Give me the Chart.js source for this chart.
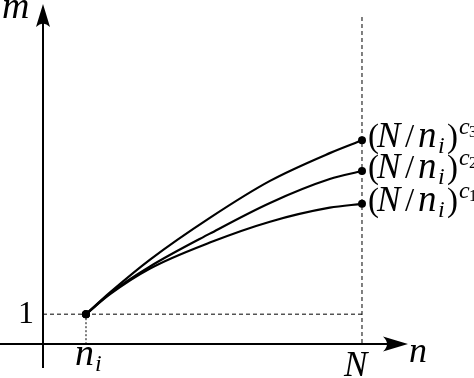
<!DOCTYPE html>
<html>
<head>
<meta charset="utf-8">
<script src="https://cdn.jsdelivr.net/npm/chart.js@4.4.1/dist/chart.umd.min.js"></script>
<style>
  body { margin: 0; background: #fff; }
  #wrap { width: 474px; height: 378px; }
</style>
</head>
<body>
<div id="wrap"><canvas id="growthChart" width="474" height="378"></canvas></div>
<script>
// values (n in units of n_i, m in units of 1)
const nPoints = [1, 1.56, 2.49, 3.88, 5.28, 6.67, 7.42];
const mCurveC1 = [1, 1.67, 2.53, 3.40, 4.10, 4.57, 4.70];
const mCurveC2 = [1, 1.70, 2.60, 3.70, 4.73, 5.53, 5.80];
const mCurveC3 = [1, 1.73, 2.83, 4.23, 5.47, 6.40, 6.83];
const exponentLabels = ['1', '2', '3'];

const nStart = 1;      // n_i
const nEnd = 7.42;     // N
const mStart = 1;
const xTickLabels = ['n', 'N'];   // n_i and N
const yTickLabels = ['1'];
const axisTitles = ['n', 'm'];

const SERIF = '"Liberation Serif"';

function toXY(ys) {
    return nPoints.map((n, i) => ({ x: n, y: ys[i] }));
}

// draws pieces of a formula, each at its own offset from (x, y)
function drawMath(ctx, x, y, parts) {
    parts.forEach(p => {
        ctx.font = (p.it ? 'italic ' : '') + p.size + 'px ' + SERIF;
        ctx.fillText(p.s, x + (p.dx || 0), y + (p.dy || 0));
    });
}

function arrowHead(ctx, tx, ty, dir) {
    // latex-like stealth arrow
    ctx.beginPath();
    if (dir === 'up') {
        ctx.moveTo(tx, ty);
        ctx.lineTo(tx + 7, ty + 23);
        ctx.quadraticCurveTo(tx, ty + 16, tx - 7, ty + 23);
    } else {
        ctx.moveTo(tx, ty);
        ctx.lineTo(tx - 25, ty - 7.5);
        ctx.quadraticCurveTo(tx - 17, ty, tx - 25, ty + 7.5);
    }
    ctx.closePath();
    ctx.fill();
}

const axesPlugin = {
    id: 'axesPlugin',
    beforeDatasetsDraw(chart) {
        const ctx = chart.ctx;
        const xs = chart.scales.x, ys = chart.scales.y;
        const x0 = xs.getPixelForValue(0), y0 = ys.getPixelForValue(0);
        const xi = xs.getPixelForValue(nStart), xN = xs.getPixelForValue(nEnd);
        const y1 = ys.getPixelForValue(mStart);
        const area = chart.chartArea;

        ctx.save();
        ctx.strokeStyle = '#000';
        ctx.lineWidth = 1;
        // dashed guides
        ctx.setLineDash([4, 3]);
        ctx.beginPath();
        ctx.moveTo(x0, y1); ctx.lineTo(xN, y1);
        ctx.moveTo(xN, area.top + 13); ctx.lineTo(xN, y0);
        ctx.stroke();
        ctx.setLineDash([2, 2]);
        ctx.beginPath();
        ctx.moveTo(xi, y1); ctx.lineTo(xi, y0);
        ctx.stroke();
        ctx.setLineDash([]);

        // axes
        ctx.lineWidth = 2;
        ctx.beginPath();
        ctx.moveTo(0, y0); ctx.lineTo(area.right - 10, y0);
        ctx.moveTo(x0, 368); ctx.lineTo(x0, area.top + 10);
        ctx.stroke();
        ctx.fillStyle = '#000';
        arrowHead(ctx, area.right, y0, 'right');
        arrowHead(ctx, x0, area.top, 'up');

        // axis titles and tick labels
        ctx.textBaseline = 'alphabetic';
        drawMath(ctx, 2, 18, [{ s: axisTitles[1], it: true, size: 38 }]);
        drawMath(ctx, area.right + 1, 362, [{ s: axisTitles[0], it: true, size: 36 }]);
        drawMath(ctx, 18, 323, [{ s: yTickLabels[0], size: 32 }]);
        drawMath(ctx, xi - 11, 365, [
            { s: xTickLabels[0], it: true, size: 38 },
            { s: 'i', it: true, size: 24, dx: 20, dy: 6 }
        ]);
        drawMath(ctx, xN - 18, 376, [{ s: xTickLabels[1], it: true, size: 35 }]);
        ctx.restore();
    },
    afterDatasetsDraw(chart) {
        const ctx = chart.ctx;
        ctx.save();
        ctx.fillStyle = '#000';
        ctx.textBaseline = 'alphabetic';
        chart.data.datasets.forEach((ds, k) => {
            const meta = chart.getDatasetMeta(k);
            const last = meta.data[meta.data.length - 1];
            drawMath(ctx, last.x + 6, last.y + 7, [
                { s: '(', size: 33, dx: 0 },
                { s: 'N', it: true, size: 35, dx: 9 },
                { s: '/', size: 33, dx: 37 },
                { s: 'n', it: true, size: 37, dx: 50 },
                { s: 'i', it: true, size: 24, dx: 70, dy: 6 },
                { s: ')', size: 33, dx: 79 },
                { s: 'c', it: true, size: 24, dx: 91, dy: -13 },
                { s: exponentLabels[k], size: 16, dx: 101, dy: -10 }
            ]);
        });
        ctx.restore();
    }
};

function endDot(c) {
    return (c.dataIndex === 0 || c.dataIndex === nPoints.length - 1) ? 4 : 0;
}

const curveStyle = {
    showLine: true,
    borderColor: '#000',
    backgroundColor: '#000',
    pointBackgroundColor: '#000',
    pointBorderWidth: 0,
    borderWidth: 2.2,
    cubicInterpolationMode: 'monotone',
    pointRadius: endDot,
    pointHoverRadius: endDot,
    clip: false
};

new Chart(document.getElementById('growthChart'), {
    type: 'scatter',
    data: {
        datasets: [
            Object.assign({ label: 'c1', data: toXY(mCurveC1) }, curveStyle),
            Object.assign({ label: 'c2', data: toXY(mCurveC2) }, curveStyle),
            Object.assign({ label: 'c3', data: toXY(mCurveC3) }, curveStyle)
        ]
    },
    options: {
        responsive: false,
        animation: false,
        layout: { padding: { left: 43, right: 66, top: 2, bottom: 34 } },
        plugins: { legend: { display: false }, tooltip: { enabled: false } },
        scales: {
            x: { type: 'linear', min: 0, max: 8.49, display: false },
            y: { type: 'linear', min: 0, max: 11.4, display: false }
        }
    },
    plugins: [axesPlugin]
});
</script>
</body>
</html>
